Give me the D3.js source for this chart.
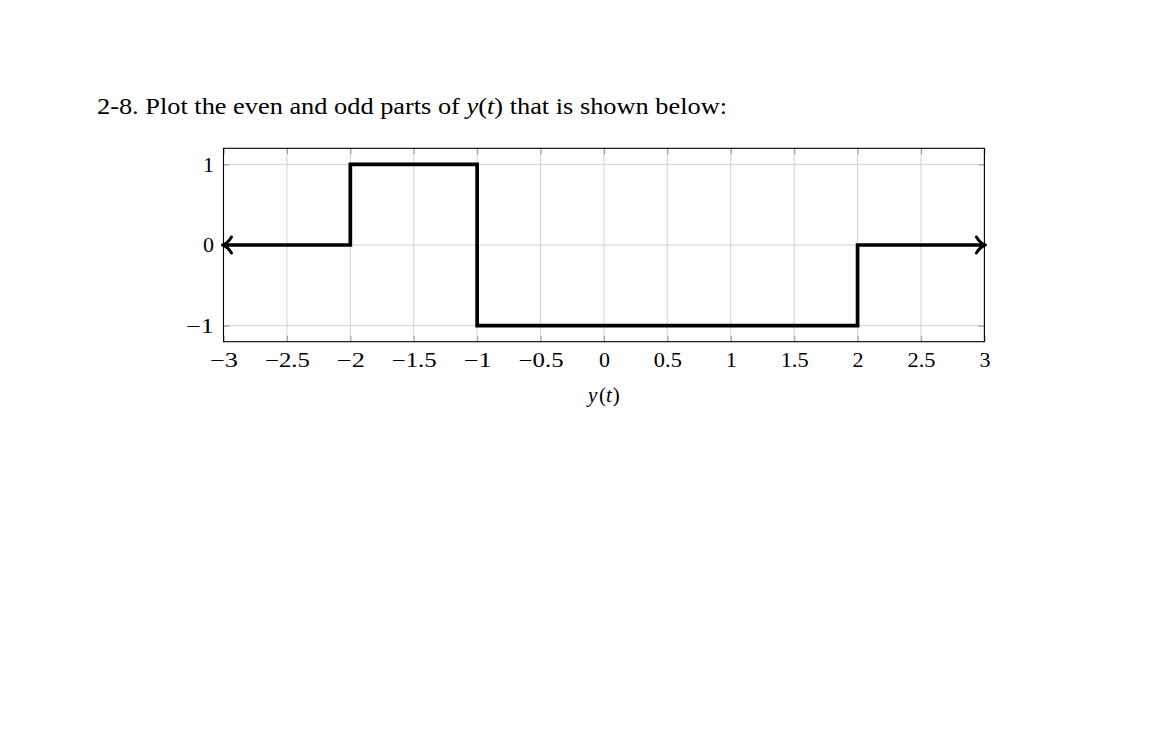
<!DOCTYPE html>
<html><head><meta charset="utf-8">
<script src="https://cdn.jsdelivr.net/npm/d3@7"></script>
<style>
body{margin:0;background:#fff;}
svg text{font-family:"Liberation Serif","DejaVu Serif",serif;fill:#000;}
</style></head>
<body>
<svg id="chart" width="1151" height="734"></svg>
<script>
const stepT = [-3, -2, -2, -1, -1, 2, 2, 3];
const stepY = [0, 0, 1, 1, -1, -1, 0, 0];
const xTicks = [-3, -2.5, -2, -1.5, -1, -0.5, 0, 0.5, 1, 1.5, 2, 2.5, 3];
const yTicks = [-1, 0, 1];
const titleText = "2-8. Plot the even and odd parts of ";
const xLabel = "y(t)";

const svg = d3.select("#chart");
const L = 223.5, R = 984.4, T = 148.3, B = 341.7;
const x = d3.scaleLinear().domain([-3, 3]).range([L, R]);
const y = d3.scaleLinear().domain([-1.2, 1.2]).range([B, T]);
const fmt = v => (v < 0 ? "\u2212" : "") + Math.abs(v);
const labelLen = s => {
  let w = 0;
  for (const c of s) w += c === "\u2212" ? 17 : c === "." ? 6 : 11;
  return w;
};

// title
const title = svg.append("text").attr("x", 97).attr("y", 113.5).style("font-size", "22.5px");
title.append("tspan").text(titleText);
title.append("tspan").style("font-style", "italic").text("y");
title.append("tspan").text("(");
title.append("tspan").style("font-style", "italic").text("t");
title.append("tspan").text(") that is shown below:");
title.attr("textLength", 630).attr("lengthAdjust", "spacingAndGlyphs");

// grid
const g = svg.append("g");
g.selectAll(".gx").data(xTicks).join("line")
  .attr("x1", d => x(d)).attr("x2", d => x(d)).attr("y1", T).attr("y2", B)
  .attr("stroke", "#d2d2d2").attr("stroke-width", 1);
g.selectAll(".gy").data(yTicks).join("line")
  .attr("y1", d => y(d)).attr("y2", d => y(d)).attr("x1", L).attr("x2", R)
  .attr("stroke", "#d2d2d2").attr("stroke-width", 1);

// axes (ticks inside, mirrored)
const tickLen = 6;
const axB = svg.append("g").attr("transform", `translate(0,${B})`)
  .call(d3.axisBottom(x).tickValues(xTicks).tickSizeInner(-tickLen).tickSizeOuter(0).tickFormat(fmt));
const axT = svg.append("g").attr("transform", `translate(0,${T})`)
  .call(d3.axisTop(x).tickValues(xTicks).tickSizeInner(-tickLen).tickSizeOuter(0).tickFormat(""));
const axL = svg.append("g").attr("transform", `translate(${L},0)`)
  .call(d3.axisLeft(y).tickValues(yTicks).tickSizeInner(-tickLen).tickSizeOuter(0).tickFormat(fmt));
const axR = svg.append("g").attr("transform", `translate(${R},0)`)
  .call(d3.axisRight(y).tickValues(yTicks).tickSizeInner(-tickLen).tickSizeOuter(0).tickFormat(""));
[axB, axT, axL, axR].forEach(a => {
  a.attr("font-family", null).attr("font-size", null);
  a.select(".domain").remove();
  a.selectAll(".tick line").attr("stroke", "#a0a0a0").attr("stroke-width", 1.2);
  a.selectAll("text").style("font-size", "20px").attr("fill", "#000");
});
axB.selectAll("text").attr("y", 25).attr("dy", 0)
  .attr("textLength", d => labelLen(fmt(d))).attr("lengthAdjust", "spacingAndGlyphs");
axL.selectAll("text").attr("x", -9.5).attr("dy", "0.34em")
  .attr("textLength", d => labelLen(fmt(d))).attr("lengthAdjust", "spacingAndGlyphs");

// frame
svg.append("rect").attr("x", L).attr("y", T).attr("width", R - L).attr("height", B - T)
  .attr("fill", "none").attr("stroke", "#000").attr("stroke-width", 1.1);

// step line
const pts = stepT.map((t, i) => [t, stepY[i]]);
const line = d3.line().x(d => x(d[0])).y(d => y(d[1]));
svg.append("path").attr("d", line(pts)).attr("fill", "none")
  .attr("stroke", "#000").attr("stroke-width", 3.7).attr("stroke-linejoin", "miter").attr("stroke-linecap", "butt");

// arrowheads
function arrow(tx, ty, dir) {
  const px = x(tx) + dir * 1, py = y(ty);
  svg.append("path")
    .attr("d", `M${px - dir * 9},${py - 8} Q${px - dir * 5},${py - 1.5} ${px},${py} Q${px - dir * 5},${py + 1.5} ${px - dir * 9},${py + 8}`)
    .attr("fill", "none").attr("stroke", "#000").attr("stroke-width", 3)
    .attr("stroke-linecap", "round").attr("stroke-linejoin", "round");
}
arrow(-3, 0, -1);
arrow(3, 0, 1);

// x label
const xl = svg.append("text").attr("x", (L + R) / 2).attr("y", 402).attr("text-anchor", "middle").style("font-size", "21px");
xl.append("tspan").style("font-style", "italic").text("y");
xl.append("tspan").attr("dx", 1.5).text("(");
xl.append("tspan").style("font-style", "italic").text("t");
xl.append("tspan").attr("dx", 1).text(")");
</script>
</body></html>
